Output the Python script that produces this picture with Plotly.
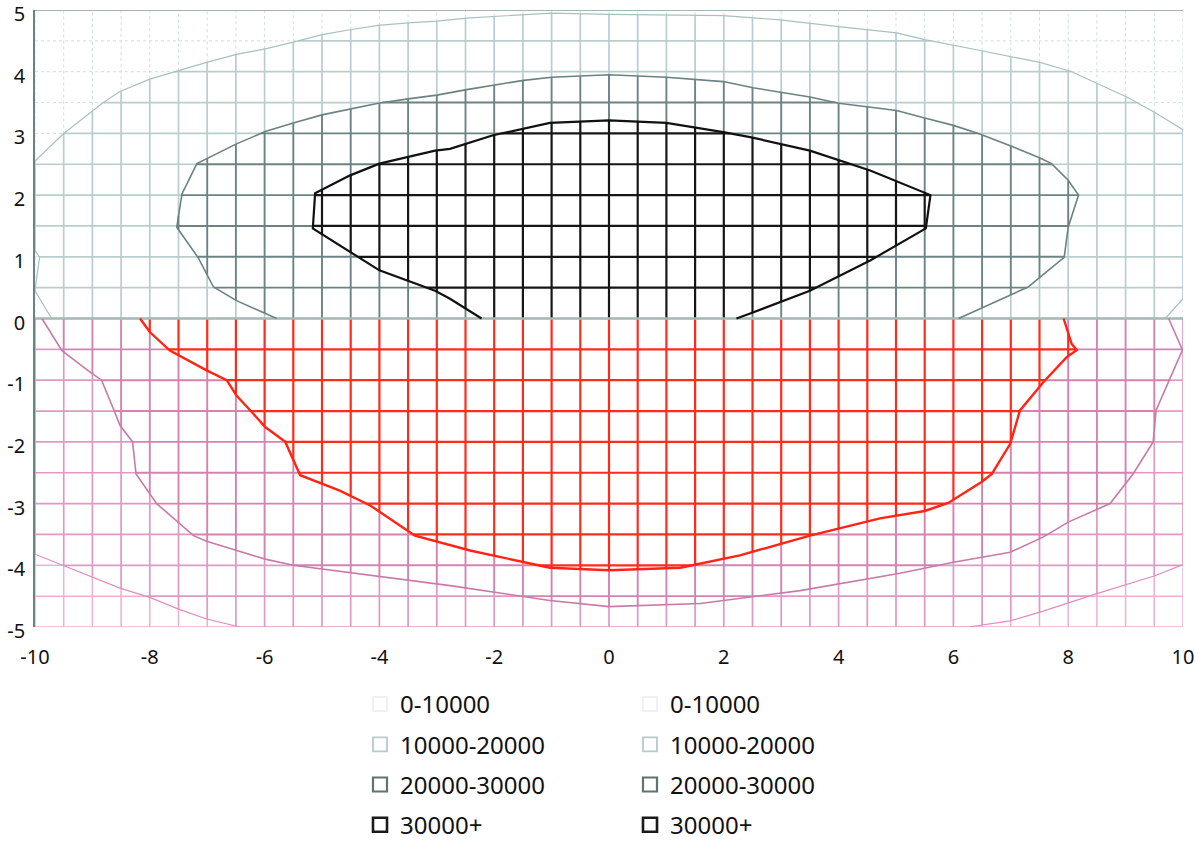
import numpy as np
import plotly.graph_objects as go

# ---------------- data ----------------
X_RANGE = [-10, 10]
Y_RANGE = [-5, 5]
GRID_STEP = 0.5
X_TICKS = [-10, -8, -6, -4, -2, 0, 2, 4, 6, 8, 10]
X_TICK_TEXT = ["-10", "-8", "-6", "-4", "-2", "0", "2", "4", "6", "8", "10"]
Y_TICKS = [5, 4, 3, 2, 1, 0, -1, -2, -3, -4, -5]
Y_TICK_TEXT = ["5", "4", "3", "2", "1", "0", "-1", "-2", "-3", "-4", "-5"]
BAND_LABELS = ["0-10000", "10000-20000", "20000-30000", "30000+"]

# upper chart (y >= 0) contour polylines
top_c10_main_x = [-10, -9.51, -8.81, -8.52, -8.0, -7.5, -7.01, -6.49, -5.99, -5.5, -5.0, -4.51, -4.02, -3.5,
                  -3.0, -2.48, -1.99, -1.49, -1.0, 0.0, 1.0, 1.99, 2.98, 3.5, 4.0, 5.01, 5.5, 6.49, 7.51,
                  8.06, 9.02, 9.51, 10]
top_c10_main_y = [2.55, 2.99, 3.5, 3.68, 3.88, 4.02, 4.15, 4.28, 4.37, 4.48, 4.6, 4.68, 4.75, 4.79,
                  4.82, 4.87, 4.9, 4.93, 4.95, 4.93, 4.92, 4.91, 4.84, 4.79, 4.73, 4.63, 4.52, 4.34, 4.15,
                  4.0, 3.59, 3.34, 3.06]
top_c10_right_x = [10, 9.69]
top_c10_right_y = [0.32, 0]
top_c10_left_x = [-9.71, -10, -9.97, -9.92, -10]
top_c10_left_y = [0, 0.45, 0.67, 0.99, 1.1]

top_c20_x = [-5.79, -6.49, -6.89, -7.16, -7.53, -7.44, -7.18, -7.01, -6.49, -5.99, -5.5, -5.0, -4.51, -4.02,
             -3.5, -3.0, -2.48, -1.99, -1.49, -1.0, 0.0, 1.0, 1.99, 2.51, 3.01, 3.5, 4.0, 5.01, 5.5, 6.0,
             6.46, 6.99, 7.51, 7.71, 8.0, 8.18, 8.0, 7.93, 7.30, 6.09]
top_c20_y = [0, 0.29, 0.51, 0.99, 1.48, 2.02, 2.51, 2.59, 2.83, 3.03, 3.17, 3.3, 3.4, 3.49,
             3.56, 3.62, 3.71, 3.79, 3.86, 3.91, 3.95, 3.91, 3.84, 3.74, 3.67, 3.59, 3.49, 3.37, 3.25, 3.13,
             2.99, 2.80, 2.6, 2.51, 2.24, 2.0, 1.48, 0.99, 0.51, 0]

top_c30_x = [-2.22, -2.77, -3.03, -4.0, -5.16, -5.12, -4.51, -4.0, -3.03, -2.77, -2.02, -1.03, 0.0, 1.0,
             1.99, 2.46, 3.5, 4.55, 5.6, 5.52, 4.55, 3.5, 2.46, 2.22]
top_c30_y = [0, 0.32, 0.45, 0.78, 1.46, 2.03, 2.32, 2.51, 2.72, 2.75, 2.97, 3.17, 3.21, 3.17,
             3.02, 2.94, 2.72, 2.4, 2.0, 1.46, 0.94, 0.45, 0.08, 0]

# lower chart (y <= 0) contour polylines
bot_c10_left_x = [-10, -9.51, -8.98, -8.52, -8.0, -7.5, -7.01, -6.43]
bot_c10_left_y = [-3.82, -4.0, -4.19, -4.37, -4.52, -4.71, -4.87, -5.0]
bot_c10_right_x = [6.26, 6.99, 7.51, 8.0, 8.5, 9.51, 10]
bot_c10_right_y = [-5.0, -4.9, -4.76, -4.61, -4.46, -4.17, -3.99]

bot_c20_x = [-9.88, -9.53, -9.04, -8.84, -8.61, -8.52, -8.3, -8.24, -7.88, -7.24, -7.01, -6.49, -5.99, -5.5,
             -4.0, -2.77, -1.03, 0.0, 1.59, 3.33, 5.07, 6.0, 6.99, 7.57, 8.0, 8.73, 9.13, 9.48, 9.53,
             9.76, 9.99, 9.75]
bot_c20_y = [0, -0.52, -0.87, -1.0, -1.52, -1.73, -2.0, -2.52, -3.0, -3.52, -3.61, -3.76, -3.9, -4.0,
             -4.18, -4.33, -4.57, -4.67, -4.62, -4.41, -4.13, -3.95, -3.79, -3.54, -3.3, -3.0, -2.52, -2.0, -1.49,
             -1.0, -0.51, 0]

bot_c30_x = [-8.17, -8.0, -7.65, -7.01, -6.66, -6.49, -6.22, -5.99, -5.64, -5.5, -5.38, -4.69, -4.16, -3.38,
             -2.42, -1.03, 0.0, 1.24, 2.28, 3.5, 4.72, 5.5, 5.91, 6.49, 6.67, 6.99, 7.16, 7.57, 7.97,
             8.15, 8.06, 7.92]
bot_c30_y = [0, -0.22, -0.52, -0.84, -1.0, -1.25, -1.52, -1.76, -2.0, -2.3, -2.54, -2.79, -3.03, -3.52,
             -3.76, -4.04, -4.08, -4.04, -3.84, -3.52, -3.24, -3.12, -2.99, -2.65, -2.52, -2.03, -1.49, -1.03, -0.63,
             -0.51, -0.41, 0]

# ---------------- styles ----------------
TOP_BAND_COLORS = ["#cfdfdf", "#b9cdcd", "#6c8383", "#161616"]
TOP_BAND_WIDTHS = [1.0, 1.7, 1.9, 2.2]
TOP_BAND_DASH = ["dot", "solid", "solid", "solid"]
TOP_CONTOUR_COLORS = ["#a9c0c0", "#6a8282", "#111111"]
TOP_CONTOUR_WIDTHS = [1.2, 1.6, 2.2]

BOT_BAND_COLORS = ["#ebb0d4", "#e198c4", "#d582b0", "#ff2b1c"]
BOT_BAND_WIDTHS = [1.5, 1.7, 1.9, 2.2]
BOT_CONTOUR_COLORS = ["#e08cc0", "#c97aa8", "#ff2414"]
BOT_CONTOUR_WIDTHS = [1.2, 1.6, 2.4]

LEGEND_BORDER = ["#e6eded", "#b8caca", "#5f7373", "#1a1a1a"]
LEGEND_BORDER_W = [1.5, 1.8, 2.2, 2.6]


def pts(xs, ys):
    return list(zip(xs, ys))


def in_poly(px, py, poly):
    poly = np.asarray(poly, float)
    xi, yi = poly[:, 0], poly[:, 1]
    xj, yj = np.roll(xi, 1), np.roll(yi, 1)
    inside = np.zeros(px.shape, bool)
    for a, b, c, d in zip(xi, yi, xj, yj):
        cond = (b > py) != (d > py)
        with np.errstate(divide="ignore", invalid="ignore"):
            xint = (c - a) * (py - b) / (d - b) + a
        inside ^= cond & (px < xint)
    return inside


# closed regions (>= level) built from the polylines and the domain edges
top_polys = [
    [(-11, 2.55)] + pts(top_c10_main_x, top_c10_main_y) + [(11, 3.06), (11, 0.32)]
    + pts(top_c10_right_x, top_c10_right_y) + [(9.69, -1), (-9.71, -1)]
    + pts(top_c10_left_x, top_c10_left_y) + [(-11, 1.1)],
    pts(top_c20_x, top_c20_y) + [(top_c20_x[-1], -1), (top_c20_x[0], -1)],
    pts(top_c30_x, top_c30_y) + [(top_c30_x[-1], -1), (top_c30_x[0], -1)],
]
bot_polys = [
    [(-11, 1), (-11, bot_c10_left_y[0])] + pts(bot_c10_left_x, bot_c10_left_y)
    + [(bot_c10_left_x[-1], -6), (bot_c10_right_x[0], -6)] + pts(bot_c10_right_x, bot_c10_right_y)
    + [(11, bot_c10_right_y[-1]), (11, 1)],
    pts(bot_c20_x, bot_c20_y) + [(bot_c20_x[-1], 1), (bot_c20_x[0], 1)],
    pts(bot_c30_x, bot_c30_y) + [(bot_c30_x[-1], 1), (bot_c30_x[0], 1)],
]


def grid_segments(y0, y1, polys):
    gx = np.arange(X_RANGE[0], X_RANGE[1] + 1e-9, GRID_STEP)
    gy = np.arange(y0, y1 + 1e-9, GRID_STEP)
    out = [([], []) for _ in range(4)]
    lines = []
    for x in gx:
        t = np.linspace(y0, y1, 1001)
        lines.append((np.full_like(t, x), t))
    for y in gy:
        if abs(y) < 1e-9:
            continue
        t = np.linspace(X_RANGE[0], X_RANGE[1], 4001)
        lines.append((t, np.full_like(t, y)))
    for lx, ly in lines:
        qx = lx + 1e-7
        qy = ly + 1e-7 * np.sign(y0 + y1)
        band = sum(in_poly(qx, qy, p).astype(int) for p in polys)
        start = 0
        n = len(lx)
        for i in range(1, n + 1):
            if i == n or band[i] != band[start]:
                a = start
                b = i - 1
                xa = lx[a] if a == 0 else (lx[a] + lx[a - 1]) / 2
                ya = ly[a] if a == 0 else (ly[a] + ly[a - 1]) / 2
                xb = lx[b] if b == n - 1 else (lx[b] + lx[b + 1]) / 2
                yb = ly[b] if b == n - 1 else (ly[b] + ly[b + 1]) / 2
                k = band[start]
                out[k][0].extend([xa, xb, None])
                out[k][1].extend([ya, yb, None])
                start = i
    return out


fig = go.Figure()

top_seg = grid_segments(0, 5, top_polys)
bot_seg = grid_segments(-5, 0, bot_polys)

for k in range(4):
    fig.add_trace(go.Scatter(x=top_seg[k][0], y=top_seg[k][1], mode="lines", showlegend=False,
                             hoverinfo="skip",
                             line=dict(color=TOP_BAND_COLORS[k], width=TOP_BAND_WIDTHS[k], dash=TOP_BAND_DASH[k])))
for k in range(4):
    fig.add_trace(go.Scatter(x=bot_seg[k][0], y=bot_seg[k][1], mode="lines", showlegend=False,
                             hoverinfo="skip",
                             line=dict(color=BOT_BAND_COLORS[k], width=BOT_BAND_WIDTHS[k])))

# zero line between the two charts
fig.add_trace(go.Scatter(x=X_RANGE, y=[0, 0], mode="lines", showlegend=False, hoverinfo="skip",
                         line=dict(color="#a4b6b6", width=2.4)))

top_lines = [
    [(top_c10_main_x, top_c10_main_y), (top_c10_right_x, top_c10_right_y), (top_c10_left_x, top_c10_left_y)],
    [(top_c20_x, top_c20_y)],
    [(top_c30_x, top_c30_y)],
]
bot_lines = [
    [(bot_c10_left_x, bot_c10_left_y), (bot_c10_right_x, bot_c10_right_y)],
    [(bot_c20_x, bot_c20_y)],
    [(bot_c30_x, bot_c30_y)],
]
for k, group in enumerate(top_lines):
    for xs, ys in group:
        fig.add_trace(go.Scatter(x=xs, y=ys, mode="lines", showlegend=False, hoverinfo="skip",
                                 line=dict(color=TOP_CONTOUR_COLORS[k], width=TOP_CONTOUR_WIDTHS[k])))
for k, group in enumerate(bot_lines):
    for xs, ys in group:
        fig.add_trace(go.Scatter(x=xs, y=ys, mode="lines", showlegend=False, hoverinfo="skip",
                                 line=dict(color=BOT_CONTOUR_COLORS[k], width=BOT_CONTOUR_WIDTHS[k])))

# legend entries (two identical legends, one per chart)
for lg in ["legend", "legend2"]:
    for k, lab in enumerate(BAND_LABELS):
        fig.add_trace(go.Scatter(x=[None], y=[None], mode="markers", name=lab, legend=lg,
                                 legendgroup=lg + str(k),
                                 marker=dict(symbol="square", size=14, color="white",
                                             line=dict(color=LEGEND_BORDER[k], width=LEGEND_BORDER_W[k]))))

# top border
fig.add_shape(type="line", x0=X_RANGE[0], x1=X_RANGE[1], y0=Y_RANGE[1], y1=Y_RANGE[1],
              line=dict(color="#8c9e9e", width=1.5), layer="above")

legend_common = dict(orientation="v", yanchor="top", xanchor="left", bgcolor="rgba(0,0,0,0)",
                     font=dict(family="Noto Sans", size=24, color="#111111"), tracegroupgap=6,
                     itemwidth=30)

ML, MR, MT, MB = 35, 12, 10, 217
PLOT_H = 844 - MT - MB
PLOT_W = 1195 - ML - MR
EPS = 1e-4
fig.update_layout(
    width=1195, height=844,
    margin=dict(l=ML, r=MR, t=MT, b=MB, autoexpand=False),
    paper_bgcolor="white", plot_bgcolor="white",
    font=dict(family="Noto Sans", size=20, color="#111111"),
    xaxis=dict(range=[X_RANGE[0] - EPS, X_RANGE[1] + EPS], tickvals=X_TICKS, ticktext=X_TICK_TEXT,
               showgrid=False, zeroline=False, showline=False, automargin=False,
               ticklabeloverflow="allow",
               ticks="outside", ticklen=12, tickcolor="rgba(0,0,0,0)", tickfont=dict(size=20)),
    yaxis=dict(range=[Y_RANGE[0] - EPS, Y_RANGE[1] + EPS], tickvals=Y_TICKS, ticktext=Y_TICK_TEXT,
               showgrid=False, zeroline=False, showline=True, automargin=False,
               ticklabeloverflow="allow", ticklabelshift=4,
               linecolor="#6a8484", linewidth=1.5, ticks="outside", ticklen=4,
               tickcolor="rgba(0,0,0,0)", tickfont=dict(size=20)),
    legend=dict(x=(360 - ML) / PLOT_W, y=-(682 - (MT + PLOT_H)) / PLOT_H, **legend_common),
    legend2=dict(x=(630 - ML) / PLOT_W, y=-(682 - (MT + PLOT_H)) / PLOT_H, **legend_common),
)

# remove the default page margin so the figure sits at the window's top-left corner
fig.write_html("out.html", config={"displayModeBar": False},
               post_script="document.body.style.margin='0';")
